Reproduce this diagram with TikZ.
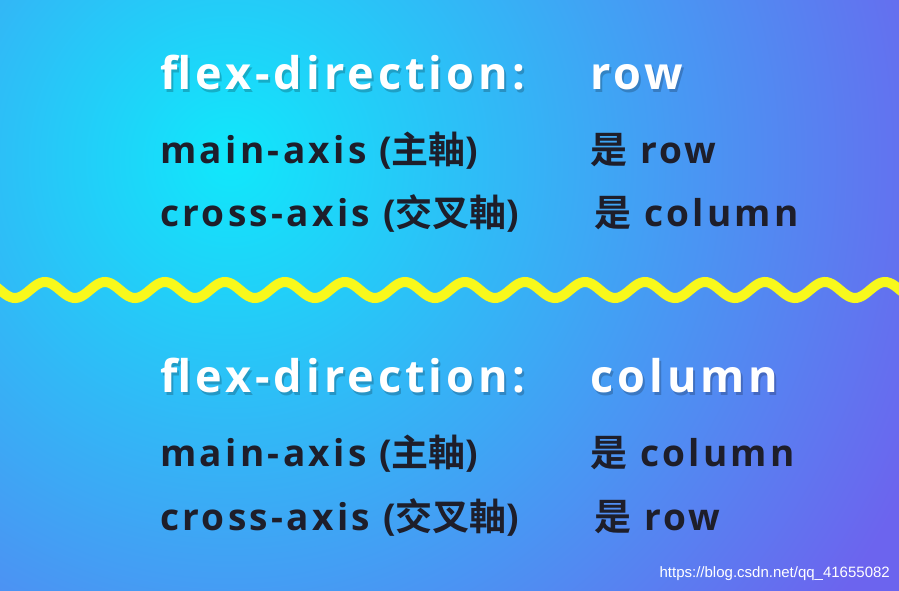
\documentclass[tikz,border=0pt]{standalone}
\usepackage{fontspec}
\setmainfont{Open Sans}[LetterSpace=9]
\newfontfamily\cjk{Noto Sans CJK TC}[BoldFont={Noto Sans CJK TC Bold}]
\newfontfamily\wm{Liberation Sans}
\usetikzlibrary{shadings}
\definecolor{bgA}{HTML}{10E8FB}
\definecolor{bgB}{HTML}{3C9BF2}
\definecolor{bgC}{HTML}{6C64EE}
\definecolor{ink}{HTML}{1E1E2A}
\definecolor{wave}{HTML}{F8F81C}
\tikzset{
 head/.style={anchor=base west,text=white,font=\fontsize{45}{50}\selectfont\bfseries,inner sep=0},
 shad/.style={anchor=base west,text=black,opacity=0.2,font=\fontsize{45}{50}\selectfont\bfseries,inner sep=0},
 body/.style={anchor=base west,text=ink,font=\fontsize{37}{42}\selectfont\bfseries,inner sep=0},
}
\newcommand{\zh}[1]{{\cjk\bfseries #1}}
\begin{document}
\begin{tikzpicture}[x=1pt,y=-1pt]
\useasboundingbox (0,0) rectangle (899,591);
\begin{scope}
\clip (0,0) rectangle (899,591);
\shade[inner color=bgA,outer color=bgC] (-520,-590) rectangle (980,910);
\end{scope}
% top block
\node[shad] at (162,93) {flex-direction:};
\node[shad] at (592,93) {row};
\node[head] (h1) at (160,90) {flex-direction:};
\node[head] (h1v) at (590,90) {row};
\node[body] (a1) at (160,163) {main-axis (\zh{主軸})};
\node[body] (a1v) at (590,163) {\zh{是} row};
\node[body] (b1) at (160,226) {cross-axis (\zh{交叉軸})};
\node[body] (b1v) at (594,226) {\zh{是} column};
% wave
\draw[wave,line width=10pt,domain=-10:910,samples=400] plot (\x,{290+8*sin(\x*6)});
% bottom block
\node[shad] at (162,395) {flex-direction:};
\node[shad] at (592,395) {column};
\node[head] (h2) at (160,392) {flex-direction:};
\node[head] (h2v) at (590,392) {column};
\node[body] (a2) at (160,466) {main-axis (\zh{主軸})};
\node[body] (a2v) at (590,466) {\zh{是} column};
\node[body] (b2) at (160,530) {cross-axis (\zh{交叉軸})};
\node[body] (b2v) at (594,530) {\zh{是} row};
\node[anchor=base east,text=white,font=\wm\fontsize{15}{17}\selectfont,inner sep=0] (wm) at (890,577) {https://blog.csdn.net/qq\_41655082};
\end{tikzpicture}
\end{document}
